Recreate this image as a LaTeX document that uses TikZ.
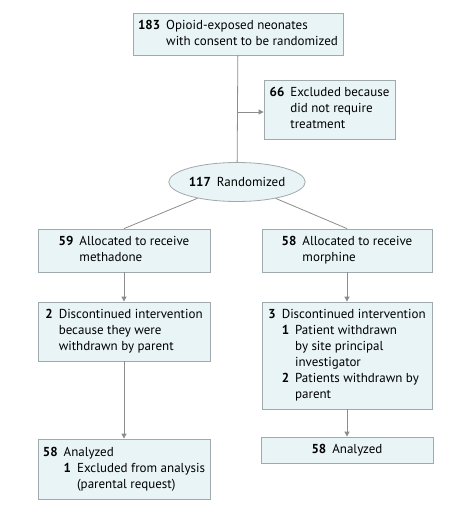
\documentclass[tikz,border=0pt]{standalone}
\usepackage{fontspec}
\setmainfont{PT Sans}
\usetikzlibrary{arrows.meta,shapes.geometric}
\definecolor{boxfill}{RGB}{233,244,246}
\definecolor{boxline}{RGB}{160,170,172}
\definecolor{linkline}{RGB}{140,140,140}
\begin{document}
\begin{tikzpicture}[x=1pt, y=-1pt, font=\fontsize{13}{16}\selectfont]
	\tikzstyle{stage} = [rectangle,draw=boxline,fill=boxfill,line width=0.8pt,inner sep=0pt]
	\tikzstyle{link} = [draw=linkline,line width=0.8pt]
	\tikzstyle{arrow} = [link,-{Triangle[length=5pt,width=5pt]}]
	\useasboundingbox (0,0) rectangle (474,513);
	\node[stage,minimum width=210pt,minimum height=42pt](enrol)at (238,34){%
		\begin{tabular}{@{}l@{\hspace{6pt}}l@{}}
		\textbf{183} & Opioid-exposed neonates\\
		& with consent to be randomized
		\end{tabular}};
	\node[stage,minimum width=131pt,minimum height=59pt](excl)at (329.5,109.5){%
		\begin{tabular}{@{}l@{\hspace{6pt}}l@{}}
		\textbf{66} & Excluded because\\
		& did not require\\
		& treatment
		\end{tabular}};
	\node[stage,ellipse,minimum width=121pt,minimum height=39pt](rand)at (237,182){\textbf{117}\hspace{6pt}Randomized};
	
	\node[stage,minimum width=172pt,minimum height=43pt](alloc-1)at (124,250.5){%
		\begin{tabular}{@{}l@{\hspace{6pt}}l@{}}
		\textbf{59} & Allocated to receive\\
		& methadone
		\end{tabular}};
	\node[stage,minimum width=170pt,minimum height=43pt](alloc-2)at (347,250.5){%
		\begin{tabular}{@{}l@{\hspace{6pt}}l@{}}
		\textbf{58} & Allocated to receive\\
		& morphine
		\end{tabular}};
	
	\node[stage,minimum width=172pt,minimum height=59pt](disc-1)at (124,331.5){%
		\begin{tabular}{@{}l@{\hspace{6pt}}l@{}}
		\textbf{2} & Discontinued intervention\\
		& because they were\\
		& withdrawn by parent
		\end{tabular}};
	\node[stage,minimum width=170pt,minimum height=107pt](disc-2)at (347,355.5){%
		\begin{tabular}{@{}l@{\hspace{6pt}}l@{\hspace{6pt}}l@{}}
		\textbf{3} & \multicolumn{2}{@{}l@{}}{Discontinued intervention}\\
		& \textbf{1} & Patient withdrawn\\
		& & by site principal\\
		& & investigator\\
		& \textbf{2} & Patients withdrawn by\\
		& & parent
		\end{tabular}};
	
	\node[stage,minimum width=172pt,minimum height=60pt](anal-1)at (124,469){%
		\begin{tabular}{@{}l@{\hspace{6pt}}l@{\hspace{6pt}}l@{}}
		\textbf{58} & \multicolumn{2}{@{}l@{}}{Analyzed}\\
		& \textbf{1} & Excluded from analysis\\
		& & (parental request)
		\end{tabular}};
	\node[stage,minimum width=172pt,minimum height=26pt](anal-2)at (347,450){\textbf{58}\hspace{6pt}Analyzed};
	
	\coordinate (branch) at (237,112);
	\coordinate (excl-in) at (branch -| excl.west);
	\path[link] (enrol) edge (rand)
	(rand) edge (alloc-1.north)
	(rand) edge (alloc-2.north);
	\draw[arrow] (branch) -- (excl-in);
	\draw[arrow] (alloc-1) -- (disc-1);
	\draw[arrow] (alloc-2) -- (disc-2);
	\draw[arrow] (disc-1) -- (anal-1);
	\draw[arrow] (disc-2) -- (anal-2);
	
\end{tikzpicture}
\end{document}
